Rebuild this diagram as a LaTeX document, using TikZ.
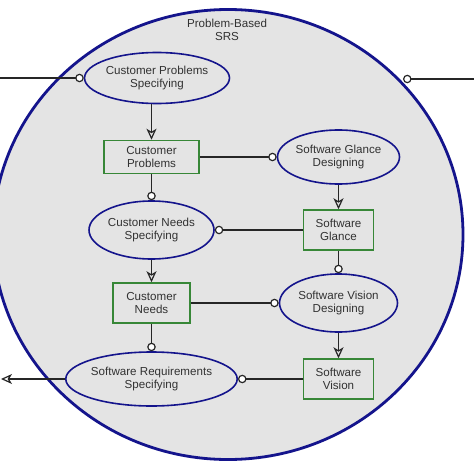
\documentclass[tikz,border=0pt]{standalone}
\usepackage{fontspec}
\setmainfont{Liberation Sans}
\usetikzlibrary{arrows.meta,shapes.geometric}

\definecolor{zoneBlue}{RGB}{20,20,140}
\definecolor{thingGreen}{RGB}{55,135,55}
\definecolor{zoneGray}{RGB}{228,228,228}
\definecolor{labelGray}{RGB}{50,50,50}

\begin{document}
\begin{tikzpicture}
[x=1pt,y=-1pt,
  font=\fontsize{11.6}{12.3}\selectfont, text=labelGray,
  zoneDecorate/.style={shape=ellipse,draw=zoneBlue,line width=2.8pt,fill=zoneGray,
    minimum width=470pt,minimum height=450pt,inner sep=0pt},
  processDecorate/.style={shape=ellipse,draw=zoneBlue,line width=1.6pt,fill=zoneGray,
    inner sep=0pt,align=center},
  objectDecorate/.style={shape=rectangle,draw=thingGreen,line width=1.5pt,fill=zoneGray,
    inner sep=0pt,align=center},
  lineDecorate/.style={line width=1.2pt,draw=black!85},
  usesDecorate/.style={lineDecorate,-{Circle[open,length=8.5pt,fill=white]}},
  yieldsDecorate/.style={lineDecorate,-{Stealth[open,length=11pt,width=10pt,inset=3pt]}}]
\useasboundingbox (0,0) rectangle (474,474);
\clip (0,0) rectangle (474,474);
%% in-zoomed process
\node (zone) at (228,234.5) [zoneDecorate] {};
\node (zoneTitle) at (227,30) [align=center] {Problem-Based\\SRS};
%% processes
\foreach \nodename/\x/\y/\w/\h/\txt in {
  cps/157/78/134/51/{Customer Problems\\Specifying},
  sgd/338.5/157/122/54/{Software Glance\\Designing},
  cns/151.5/230/125/58/{Customer Needs\\Specifying},
  svd/338.5/303/118/58/{Software Vision\\Designing},
  srs/151.5/379/149/54/{Software Requirements\\Specifying}}
{
  \node (\nodename) at (\x,\y) [processDecorate,minimum width=\w pt,minimum height=\h pt] {\txt};
}
%% objects
\foreach \nodename/\x/\y/\w/\h/\txt in {
  cp/151.5/157/95/33/{Customer\\Problems},
  sg/338.5/230/70/40/{Software\\Glance},
  cn/151.5/303/77/40/{Customer\\Needs},
  sv/338.5/379/70/40/{Software\\Vision}}
{
  \node (\nodename) at (\x,\y) [objectDecorate,minimum width=\w pt,minimum height=\h pt] {\txt};
}
%% outside ends
\coordinate (feedL) at (0,78);
\coordinate (feedR) at (474,79);
\coordinate (yieldL) at (1,379);
%% instrument links
\path
\foreach \startnode/\endnode in {
  feedL/cps, cp/sgd, cp/cns, sg/cns, sg/svd, cn/svd, cn/srs, sv/srs}
{
  (\startnode) edge[usesDecorate] (\endnode)
};
\draw[usesDecorate] (feedR) -- (feedR -| zone.41);
%% result links
\draw[yieldsDecorate] (cps.south -| cp) -- (cp);
\path
\foreach \startnode/\endnode in {
  sgd/sg, cns/cn, svd/sv, srs/yieldL}
{
  (\startnode) edge[yieldsDecorate] (\endnode)
};
\end{tikzpicture}
\end{document}
